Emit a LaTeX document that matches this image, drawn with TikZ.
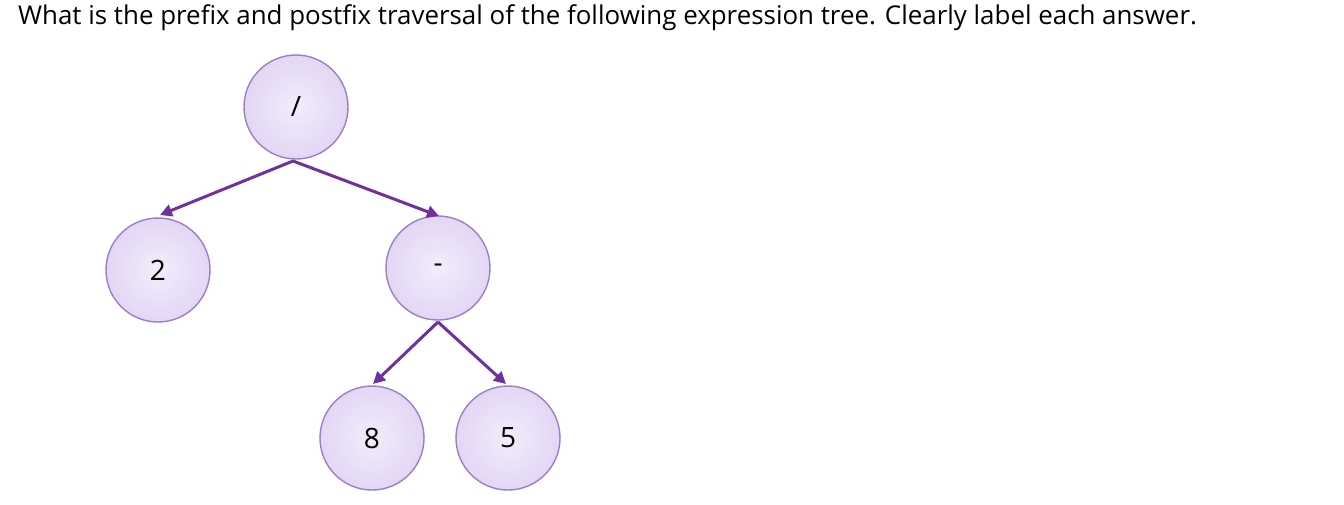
\documentclass[tikz,border=0pt]{standalone}
\usepackage{fontspec}
\setmainfont{Open Sans}
\usetikzlibrary{arrows.meta}
\definecolor{nodefill}{HTML}{E3D6F5}
\definecolor{nodeline}{HTML}{9A80C2}
\definecolor{edgecol}{HTML}{7030A0}
\tikzset{
  tnode/.style={circle, minimum size=104pt, inner sep=0pt, draw=nodeline, line width=1.4pt,
    inner color=nodefill!45, outer color=nodefill, font=\fontsize{28}{32}\selectfont},
  tedge/.style={draw=edgecol, line width=3pt, -{Triangle[length=12pt,width=12pt]}}
}
\begin{document}
\begin{tikzpicture}[x=1pt,y=-1pt]
\useasboundingbox (0,0) rectangle (1344,504);
\node[anchor=west, inner sep=0pt, font=\fontsize{25.9}{30}\selectfont] (title) at (18,18) {What is the prefix and postfix traversal of the following expression tree. Clearly label each answer.};
\node[tnode] (div) at (296,107) {/};
\node[tnode] (two) at (158,270) {2};
\node[tnode] (minus) at (438,268) {-};
\node[tnode] (eight) at (372,438) {8};
\node[tnode] (five) at (508,438) {5};
\coordinate (dv) at (293,161);
\coordinate (mv) at (438,322);
\coordinate (twoin) at (160,215);
\coordinate (minusin) at (439,216);
\coordinate (eightin) at (373,384);
\coordinate (fivein) at (506,384);
\draw[tedge] (dv) -- (twoin);
\draw[tedge] (dv) -- (minusin);
\draw[tedge] (mv) -- (eightin);
\draw[tedge] (mv) -- (fivein);
\end{tikzpicture}
\end{document}
